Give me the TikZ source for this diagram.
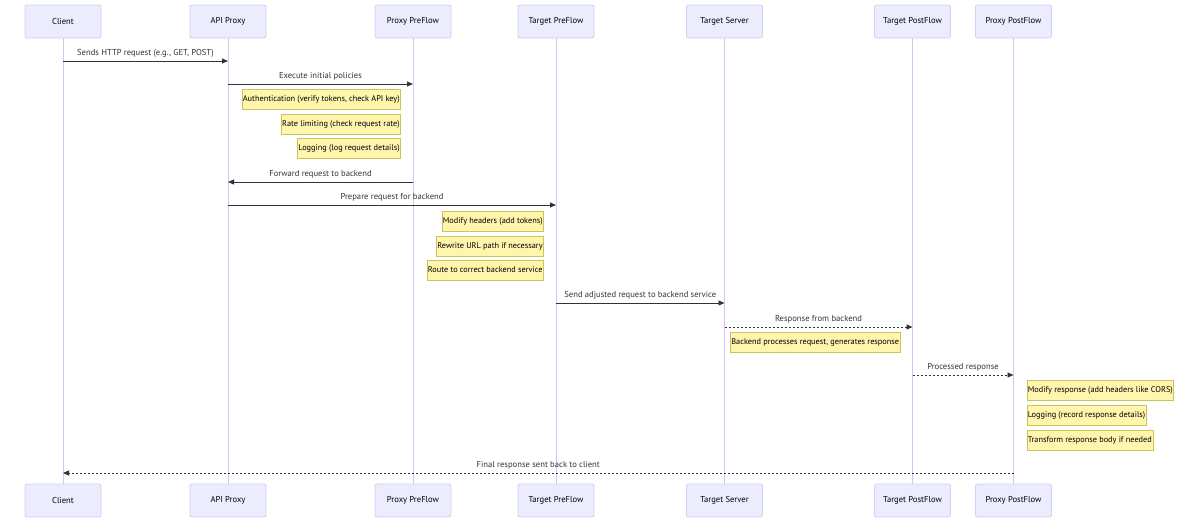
\documentclass[tikz,border=0pt]{standalone}
\usepackage{fontspec}
\setmainfont{PT Sans}
\usetikzlibrary{arrows.meta}
\definecolor{actorfill}{HTML}{ECECFF}
\definecolor{actorline}{HTML}{D6CCF4}
\definecolor{lifeline}{HTML}{D2C6F2}
\definecolor{notefill}{HTML}{FFF5AD}
\definecolor{noteline}{HTML}{C9C55A}
\definecolor{signal}{HTML}{333333}

\begin{document}
\begin{tikzpicture}[x=1pt, y=-1pt,
  actor/.style={rounded corners=2pt, draw=actorline, fill=actorfill, line width=0.8pt,
                minimum width=76pt, minimum height=33pt,
                font=\fontsize{8.6}{10}\selectfont},
  life/.style={draw=lifeline, line width=0.9pt},
  msg/.style={draw=signal, line width=0.9pt, -{Triangle[length=6pt, width=5pt]}},
  reply/.style={msg, dash pattern=on 2pt off 2pt},
  lab/.style={midway, yshift=7.5pt, inner sep=0pt, text=signal,
              font=\fontsize{8.6}{10}\selectfont},
  note/.style={draw=noteline, fill=notefill, line width=0.7pt, minimum height=20pt,
               inner xsep=1pt, inner ysep=0pt, anchor=east, xshift=-12pt,
               font=\fontsize{8.3}{10}\selectfont},
  rnote/.style={note, anchor=west, xshift=25pt},
]
\useasboundingbox (0,0) rectangle (1200,522);

% ── Participants (top and bottom) ───────────────────────────────────────
\node[actor] (clientT) at (63,21.5)    {Client};
\node[actor] (apiT)    at (228,21.5)   {API Proxy};
\node[actor] (ppreT)   at (413,21.5)   {Proxy PreFlow};
\node[actor] (tpreT)   at (556,21.5)   {Target PreFlow};
\node[actor] (srvT)    at (724.5,21.5) {Target Server};
\node[actor] (tpostT)  at (912.5,21.5) {Target PostFlow};
\node[actor] (ppostT)  at (1013.5,21.5){Proxy PostFlow};

\node[actor] (clientB) at (63,500.5)    {Client};
\node[actor] (apiB)    at (228,500.5)   {API Proxy};
\node[actor] (ppreB)   at (413,500.5)   {Proxy PreFlow};
\node[actor] (tpreB)   at (556,500.5)   {Target PreFlow};
\node[actor] (srvB)    at (724.5,500.5) {Target Server};
\node[actor] (tpostB)  at (912.5,500.5) {Target PostFlow};
\node[actor] (ppostB)  at (1013.5,500.5){Proxy PostFlow};

% ── Lifelines ───────────────────────────────────────────────────────────
\foreach \p in {client,api,ppre,tpre,srv,tpost,ppost}
  \draw[life] (\p T.south) -- (\p B.north);

% ── Request path ────────────────────────────────────────────────────────
\draw[msg] (clientT |- 0,61) -- node[lab] {Sends HTTP request (e.g., GET, POST)} (apiT |- 0,61);
\draw[msg] (apiT |- 0,84) -- node[lab] {Execute initial policies} (ppreT |- 0,84);
\node[note] (auth) at (ppreT |- 0,99.5)  {Authentication (verify tokens, check API key)};
\node[note] (rate) at (ppreT |- 0,124.5) {Rate limiting (check request rate)};
\node[note] (plog) at (ppreT |- 0,148.5) {Logging (log request details)};
\draw[msg] (ppreT |- 0,182) -- node[lab] {Forward request to backend} (apiT |- 0,182);
\draw[msg] (apiT |- 0,205) -- node[lab] {Prepare request for backend} (tpreT |- 0,205);
\node[note] (hdrs)  at (tpreT |- 0,221) {Modify headers (add tokens)};
\node[note] (url)   at (tpreT |- 0,246) {Rewrite URL path if necessary};
\node[note] (route) at (tpreT |- 0,270) {Route to correct backend service};
\draw[msg] (tpreT |- 0,303) -- node[lab] {Send adjusted request to backend service} (srvT |- 0,303);

% ── Response path ───────────────────────────────────────────────────────
\draw[reply] (srvT |- 0,327) -- node[lab] {Response from backend} (tpostT |- 0,327);
\node[note] (backend) at (tpostT |- 0,342) {Backend processes request, generates response};
\draw[reply] (tpostT |- 0,375) -- node[lab] {Processed response} (ppostT |- 0,375);
\node[rnote] (cors)  at (ppostT |- 0,390) {Modify response (add headers like CORS)};
\node[rnote] (rlog)  at (ppostT |- 0,415) {Logging (record response details)};
\node[rnote] (xform) at (ppostT |- 0,440) {Transform response body if needed};
\draw[reply] (ppostT |- 0,473) -- node[lab] {Final response sent back to client} (clientT |- 0,473);

\end{tikzpicture}
\end{document}
